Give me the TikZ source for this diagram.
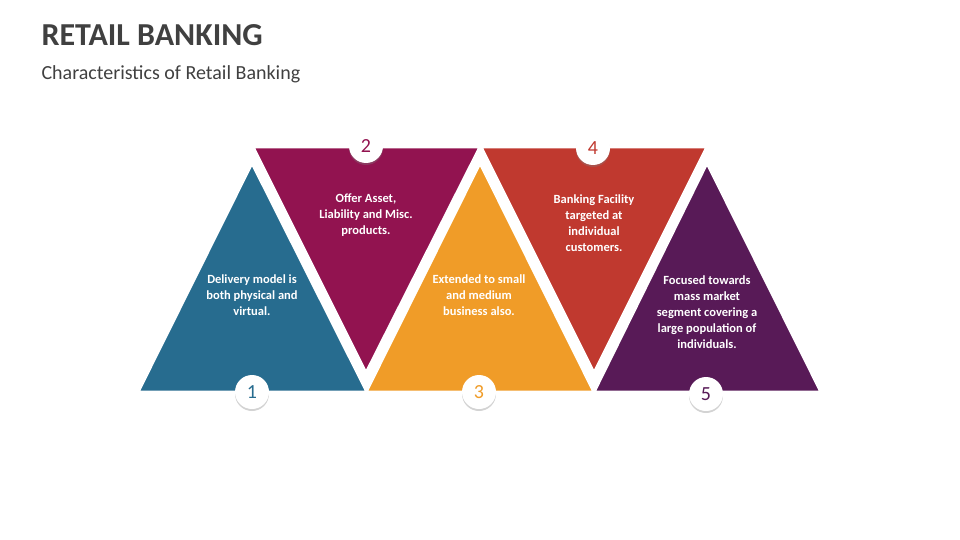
\documentclass[tikz,border=0pt]{standalone}
\usepackage{fontspec}
\setmainfont{Carlito}
\usetikzlibrary{shadows}
\definecolor{cA}{HTML}{276C8F}
\definecolor{cB}{HTML}{921350}
\definecolor{cC}{HTML}{F09C28}
\definecolor{cD}{HTML}{C0392F}
\definecolor{cE}{HTML}{581A57}
\definecolor{ttl}{HTML}{404040}
\tikzset{tri/.style={draw=white,line width=3pt,line join=miter},
 num/.style={circle,fill=white,minimum size=34pt,inner sep=0pt,font=\fontsize{20}{20}\selectfont,drop shadow={opacity=0.35,shadow xshift=0pt,shadow yshift=-2pt}},
 txt/.style={text=white,font=\bfseries\fontsize{12.5}{16}\selectfont,align=center}}
\begin{document}
\begin{tikzpicture}[x=1pt,y=-1pt]
\useasboundingbox (0,0) rectangle (960,540);
\node[anchor=west,text=ttl,font=\bfseries\fontsize{32}{32}\selectfont] (title) at (38,35) {RETAIL BANKING};
\node[anchor=west,text=ttl,font=\fontsize{20}{20}\selectfont] (sub) at (38,74) {Characteristics of Retail Banking};
\fill[cB,tri] (253,147) -- (480,147) -- (366,373) -- cycle;
\fill[cD,tri] (481,147) -- (707,147) -- (594,373) -- cycle;
\fill[cA,tri] (252,163) -- (367,392) -- (138,392) -- cycle;
\fill[cC,tri] (480,163) -- (594,392) -- (366,392) -- cycle;
\fill[cE,tri] (707,163) -- (821,392) -- (594,392) -- cycle;
\node[txt] (t1) at (252,295) {Delivery model is\\both physical and\\virtual.};
\node[txt] (t2) at (366,215) {Offer Asset,\\Liability and Misc.\\products.};
\node[txt] (t3) at (479,295) {Extended to small\\and medium\\business also.};
\node[txt] (t4) at (594,223) {Banking Facility\\targeted at\\individual\\customers.};
\node[txt] (t5) at (707,312) {Focused towards\\mass market\\segment covering a\\large population of\\individuals.};
\node[num,text=cA] (n1) at (252,392) {1};
\node[num,text=cB] (n2) at (366,146) {2};
\node[num,text=cC] (n3) at (479,392) {3};
\node[num,text=cD] (n4) at (593,148) {4};
\node[num,text=cE] (n5) at (706,394) {5};
\end{tikzpicture}
\end{document}
